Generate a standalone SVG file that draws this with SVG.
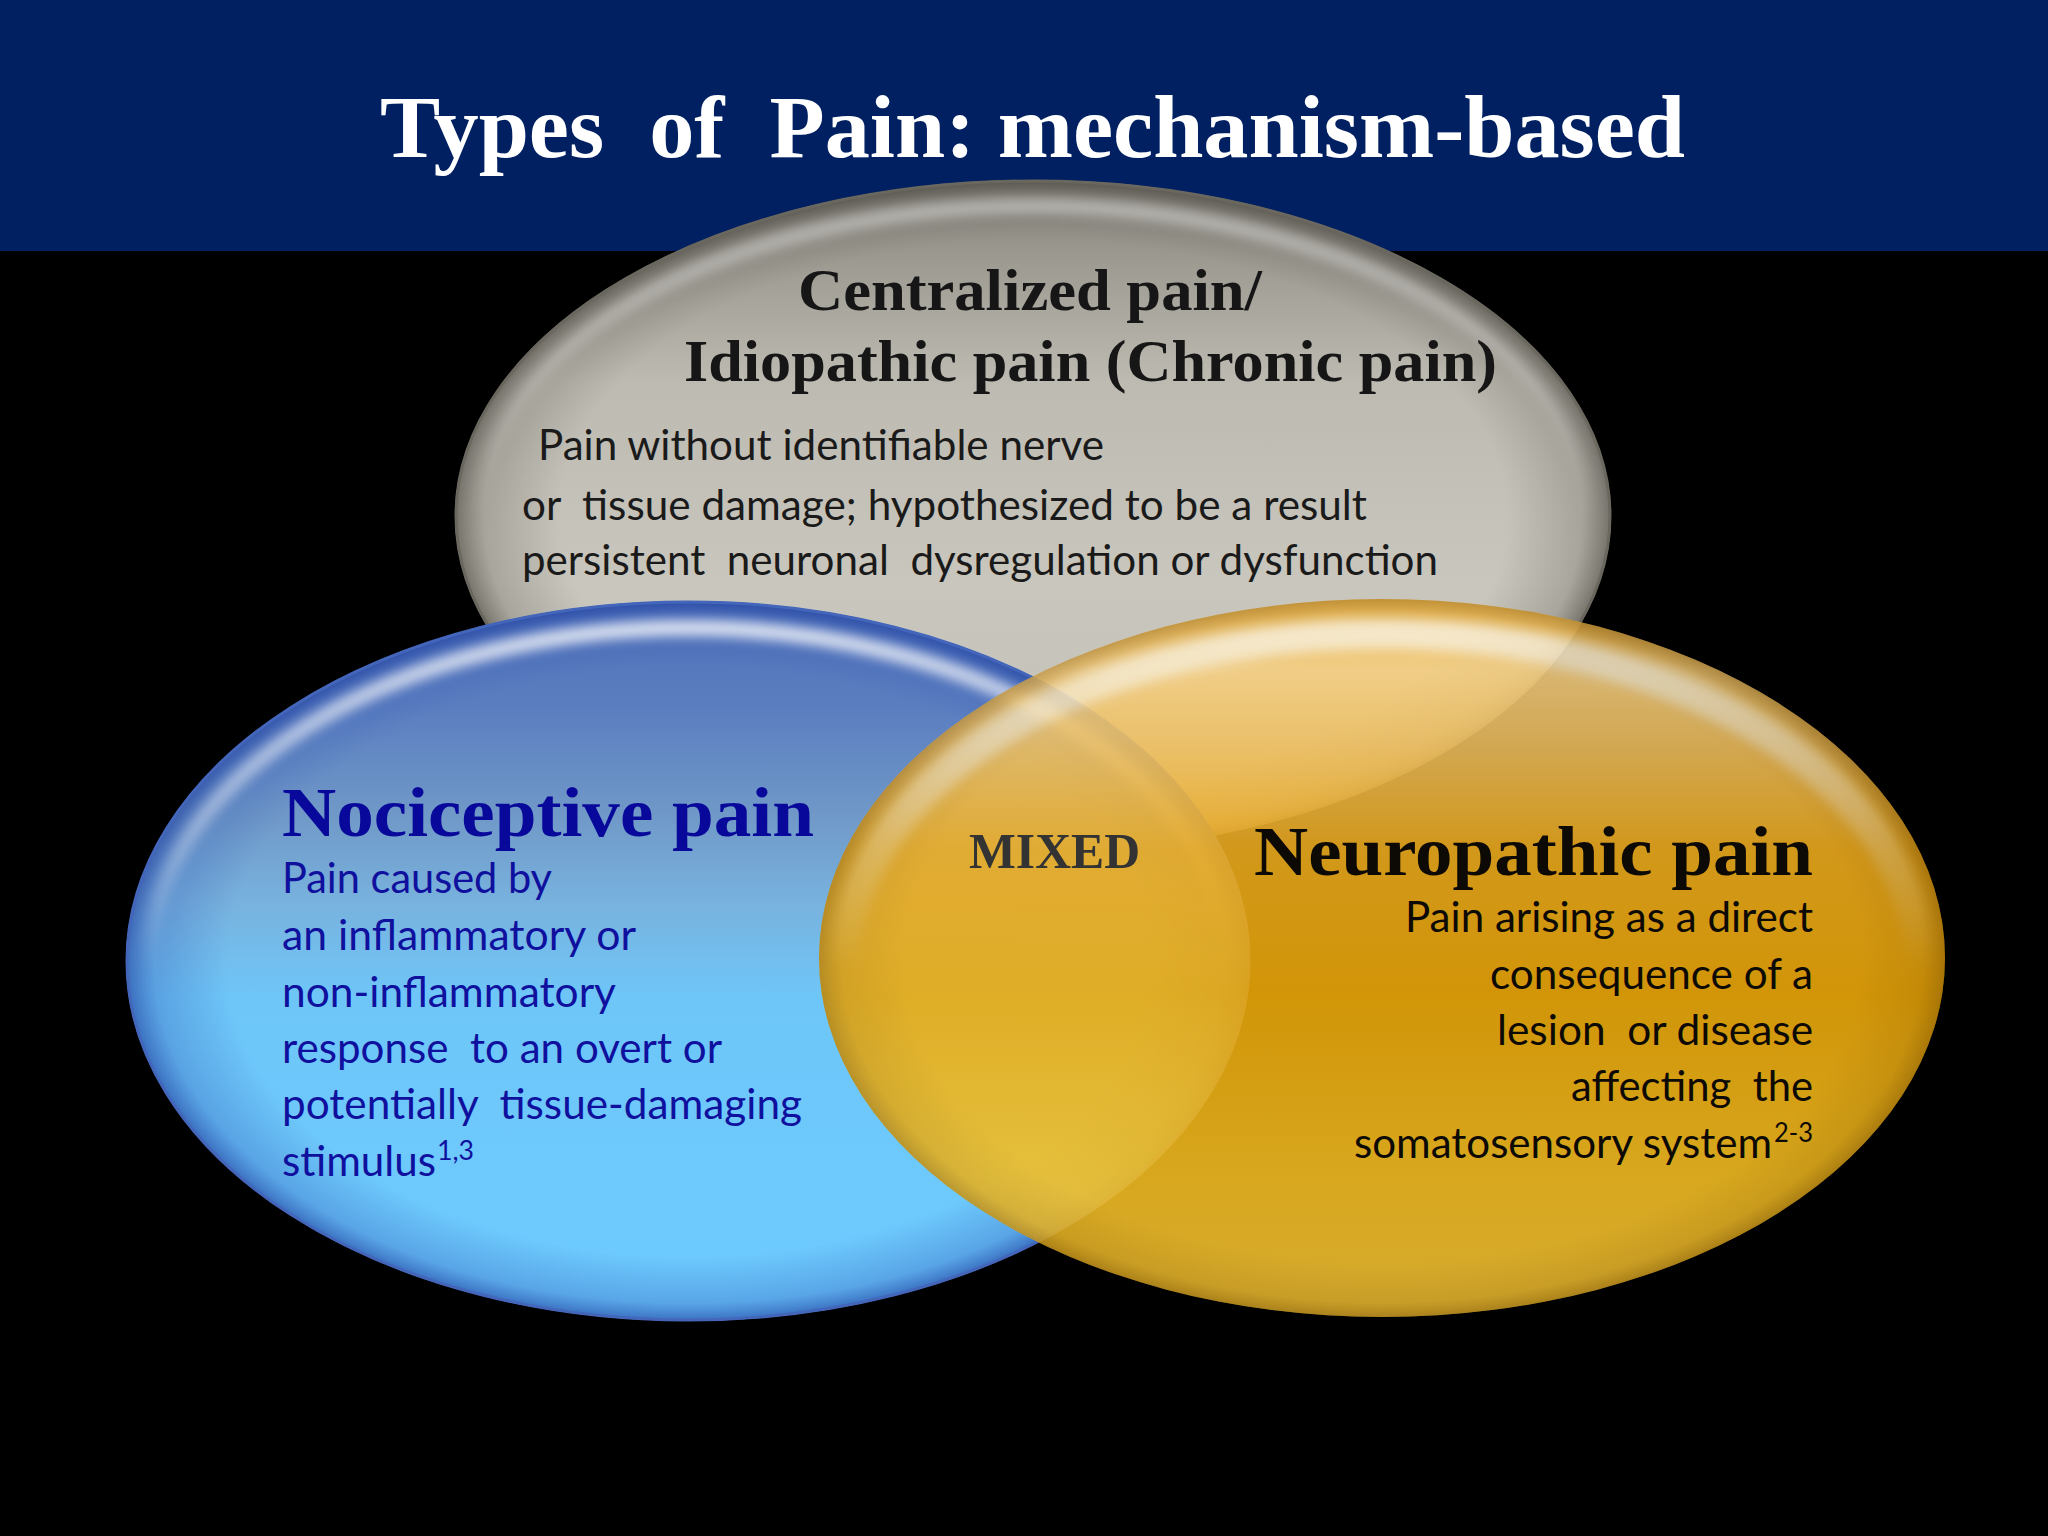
<svg xmlns="http://www.w3.org/2000/svg" width="2048" height="1536" viewBox="0 0 2048 1536">
<defs>
<style>
text{white-space:pre}
.title{font-family:"Liberation Serif",Cambria,serif;font-weight:bold;fill:#ffffff}
.head{font-family:"Liberation Serif",Cambria,serif;font-weight:bold}
.body{font-family:Lato,"Liberation Sans",sans-serif}
</style>
<filter id="soft" x="-10%" y="-10%" width="120%" height="120%">
<feGaussianBlur stdDeviation="6"/>
</filter>
<linearGradient id="grayFill" x1="0" y1="0" x2="0" y2="1">
<stop offset="0" stop-color="#85827b"/>
<stop offset="0.12" stop-color="#9d9a92"/>
<stop offset="0.3" stop-color="#bdbab1"/>
<stop offset="0.6" stop-color="#c9c6bd"/>
<stop offset="1" stop-color="#c2bfb6"/>
</linearGradient>
<linearGradient id="blueFill" x1="0" y1="0" x2="0" y2="1">
<stop offset="0" stop-color="#4f70b8"/>
<stop offset="0.15" stop-color="#5b7ec0"/>
<stop offset="0.3" stop-color="#7099c8"/>
<stop offset="0.42" stop-color="#78b2de"/>
<stop offset="0.55" stop-color="#6ec6f8"/>
<stop offset="1" stop-color="#6dcbff"/>
</linearGradient>
<linearGradient id="goldFill" x1="0" y1="0" x2="0" y2="1">
<stop offset="0" stop-color="#f0b440"/>
<stop offset="0.1" stop-color="#f6cf80"/>
<stop offset="0.2" stop-color="#f0c060"/>
<stop offset="0.35" stop-color="#f0ad1e"/>
<stop offset="0.55" stop-color="#efaa0a"/>
<stop offset="0.8" stop-color="#f6bf22"/>
<stop offset="1" stop-color="#f4c438"/>
</linearGradient>
<radialGradient id="grayRim" cx="0.5" cy="0.5" r="0.5">
<stop offset="0.82" stop-color="#4a4740" stop-opacity="0"/>
<stop offset="0.95" stop-color="#4a4740" stop-opacity="0.25"/>
<stop offset="1" stop-color="#3e3b35" stop-opacity="0.6"/>
</radialGradient>
<radialGradient id="blueRim" cx="0.5" cy="0.5" r="0.5">
<stop offset="0.82" stop-color="#2a4fb0" stop-opacity="0"/>
<stop offset="0.95" stop-color="#2a4fb0" stop-opacity="0.3"/>
<stop offset="1" stop-color="#1e3e9e" stop-opacity="0.65"/>
</radialGradient>
<radialGradient id="goldRim" cx="0.5" cy="0.5" r="0.5">
<stop offset="0.85" stop-color="#8a5a00" stop-opacity="0"/>
<stop offset="0.96" stop-color="#8a5a00" stop-opacity="0.15"/>
<stop offset="1" stop-color="#7a4e00" stop-opacity="0.4"/>
</radialGradient>
<linearGradient id="gleamBlue" x1="0" y1="0" x2="0" y2="1">
<stop offset="0" stop-color="#ffffff" stop-opacity="0.8"/>
<stop offset="0.3" stop-color="#ffffff" stop-opacity="0.35"/>
<stop offset="0.5" stop-color="#ffffff" stop-opacity="0"/>
</linearGradient>
<linearGradient id="gleamGold" x1="0" y1="0" x2="0" y2="1">
<stop offset="0" stop-color="#fff6e0" stop-opacity="0.85"/>
<stop offset="0.3" stop-color="#fff6e0" stop-opacity="0.3"/>
<stop offset="0.5" stop-color="#fff6e0" stop-opacity="0"/>
</linearGradient>
<linearGradient id="gleamGray" x1="0" y1="0" x2="0" y2="1">
<stop offset="0" stop-color="#ffffff" stop-opacity="0.45"/>
<stop offset="0.3" stop-color="#ffffff" stop-opacity="0.15"/>
<stop offset="0.5" stop-color="#ffffff" stop-opacity="0"/>
</linearGradient>
</defs>

<rect x="0" y="0" width="2048" height="1536" fill="#000000"/>

<g id="header">
<rect x="0" y="0" width="2048" height="251" fill="#012062"/>
<text class="title" x="380" y="157" font-size="88" textLength="1305" lengthAdjust="spacingAndGlyphs">Types  of  Pain: mechanism-based</text>
</g>

<g id="node-centralized">
<ellipse cx="1033" cy="516" rx="578" ry="336" fill="url(#grayFill)"/>
<ellipse cx="1033" cy="516" rx="578" ry="336" fill="url(#grayRim)"/>
<ellipse cx="1033" cy="520" rx="556" ry="314" fill="none" stroke="url(#gleamGray)" stroke-width="14" filter="url(#soft)"/>
<ellipse cx="1033" cy="516" rx="577" ry="335" fill="none" stroke="#6a675f" stroke-width="3"/>
<text class="head" x="798" y="310" font-size="60" fill="#161616" textLength="464" lengthAdjust="spacingAndGlyphs">Centralized pain/</text>
<text class="head" x="684" y="381" font-size="60" fill="#161616" textLength="813" lengthAdjust="spacingAndGlyphs">Idiopathic pain (Chronic pain)</text>
<text class="body" x="538" y="460" font-size="42" fill="#1a1a1a" textLength="566" lengthAdjust="spacingAndGlyphs">Pain without identifiable nerve</text>
<text class="body" x="522" y="520" font-size="42" fill="#1a1a1a" textLength="845" lengthAdjust="spacingAndGlyphs">or  tissue damage; hypothesized to be a result</text>
<text class="body" x="522" y="575" font-size="42" fill="#1a1a1a" textLength="916" lengthAdjust="spacingAndGlyphs">persistent  neuronal  dysregulation or dysfunction</text>
</g>

<g id="node-nociceptive">
<ellipse cx="688" cy="961" rx="562" ry="360" fill="url(#blueFill)"/>
<ellipse cx="688" cy="961" rx="562" ry="360" fill="url(#blueRim)"/>
<ellipse cx="688" cy="966" rx="540" ry="338" fill="none" stroke="url(#gleamBlue)" stroke-width="16" filter="url(#soft)"/>
<ellipse cx="688" cy="961" rx="561" ry="359" fill="none" stroke="#4366bb" stroke-width="3"/>
<text class="head" x="282" y="836" font-size="70" fill="#08089a" textLength="532" lengthAdjust="spacingAndGlyphs">Nociceptive pain</text>
<text class="body" x="282" y="893" font-size="42" fill="#10109e" textLength="270" lengthAdjust="spacingAndGlyphs">Pain caused by</text>
<text class="body" x="282" y="950" font-size="42" fill="#10109e" textLength="354" lengthAdjust="spacingAndGlyphs">an inflammatory or</text>
<text class="body" x="282" y="1007" font-size="42" fill="#10109e" textLength="334" lengthAdjust="spacingAndGlyphs">non-inflammatory</text>
<text class="body" x="282" y="1063" font-size="42" fill="#10109e" textLength="440" lengthAdjust="spacingAndGlyphs">response  to an overt or</text>
<text class="body" x="282" y="1119" font-size="42" fill="#10109e" textLength="520" lengthAdjust="spacingAndGlyphs">potentially  tissue-damaging</text>
<text class="body" x="282" y="1176" font-size="42" fill="#10109e" textLength="154" lengthAdjust="spacingAndGlyphs">stimulus</text>
<text class="body" x="437" y="1160" font-size="27" fill="#10109e" textLength="37" lengthAdjust="spacingAndGlyphs">1,3</text>
</g>

<g id="node-neuropathic">
<g opacity="0.88">
<ellipse cx="1382" cy="958" rx="563" ry="359" fill="url(#goldFill)"/>
<ellipse cx="1382" cy="958" rx="563" ry="359" fill="url(#goldRim)"/>
<ellipse cx="1382" cy="968" rx="538" ry="334" fill="none" stroke="url(#gleamGold)" stroke-width="30" filter="url(#soft)"/>
</g>
<text class="head" x="1254" y="875" font-size="70" fill="#0d0a05" textLength="559" lengthAdjust="spacingAndGlyphs">Neuropathic pain</text>
<text class="body" x="1405" y="932" font-size="42" fill="#0d0a05" textLength="408" lengthAdjust="spacingAndGlyphs">Pain arising as a direct</text>
<text class="body" x="1490" y="989" font-size="42" fill="#0d0a05" textLength="323" lengthAdjust="spacingAndGlyphs">consequence of a</text>
<text class="body" x="1497" y="1045" font-size="42" fill="#0d0a05" textLength="316" lengthAdjust="spacingAndGlyphs">lesion  or disease</text>
<text class="body" x="1571" y="1101" font-size="42" fill="#0d0a05" textLength="242" lengthAdjust="spacingAndGlyphs">affecting  the</text>
<text class="body" x="1354" y="1158" font-size="42" fill="#0d0a05" textLength="418" lengthAdjust="spacingAndGlyphs">somatosensory system</text>
<text class="body" x="1774" y="1142" font-size="27" fill="#0d0a05" textLength="39" lengthAdjust="spacingAndGlyphs">2-3</text>
</g>

<g id="label-mixed">
<text class="head" x="969" y="868" font-size="50" fill="#333333" textLength="171" lengthAdjust="spacingAndGlyphs">MIXED</text>
</g>
</svg>
